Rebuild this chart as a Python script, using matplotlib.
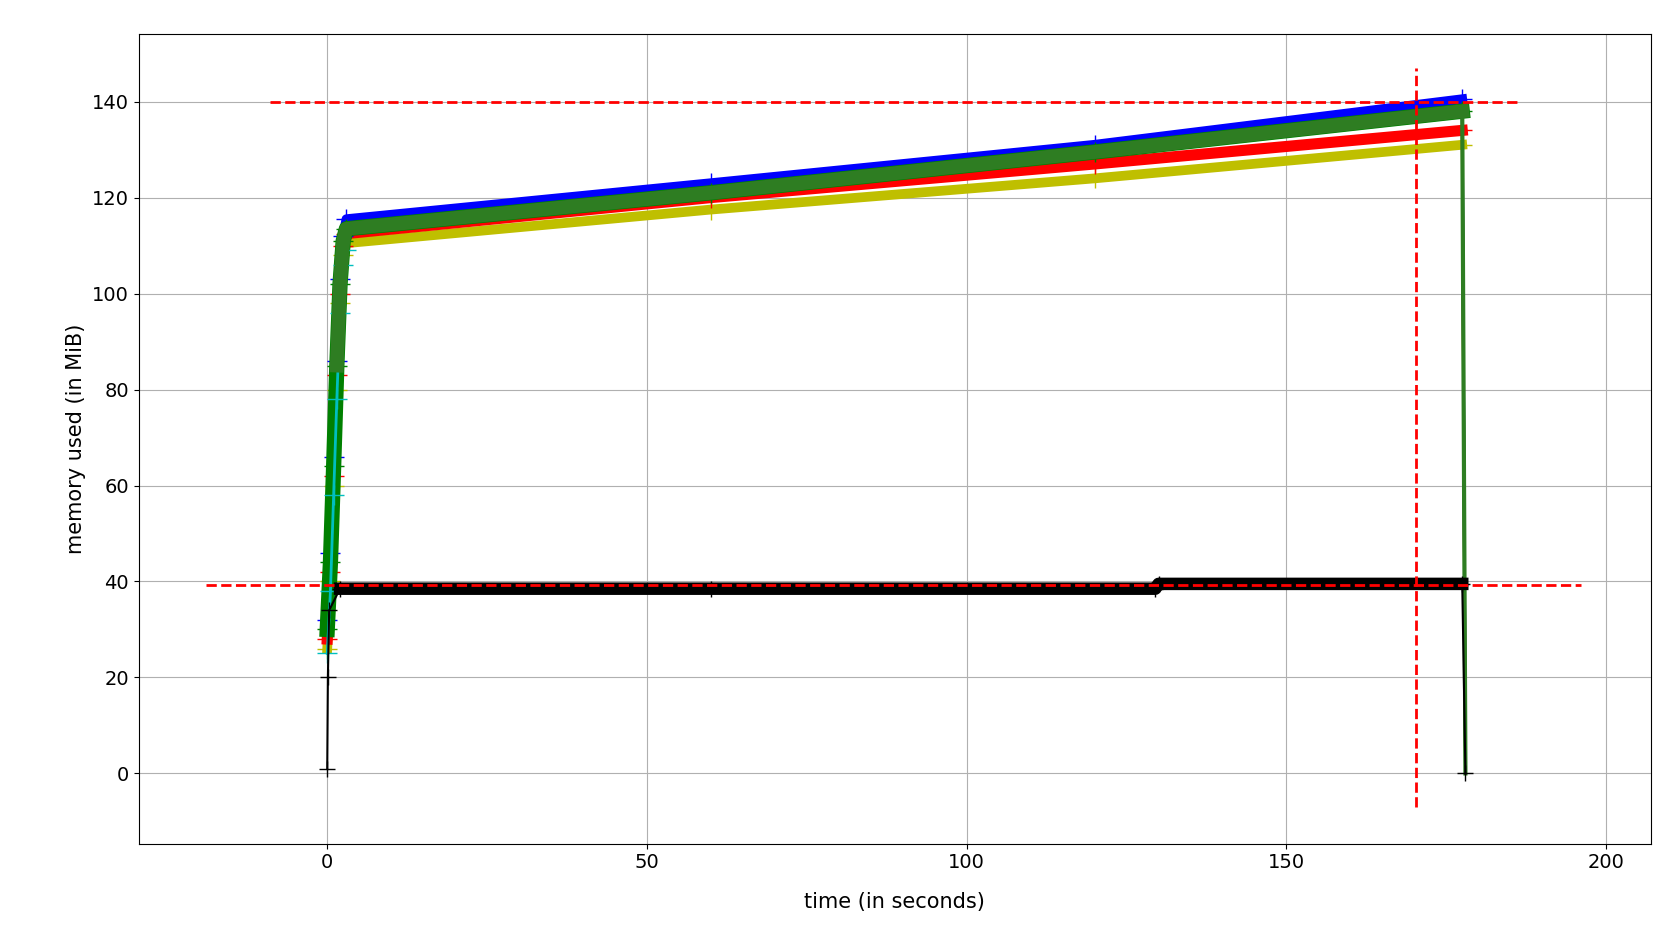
import matplotlib
matplotlib.use("Agg")
import matplotlib.pyplot as plt

# main process (black)
main_t = [0.0, 0.1, 0.3, 2.0, 60.0, 129.5, 130.0, 177.5, 178.0]
main_m = [1.0, 20.0, 34.0, 38.5, 38.5, 38.5, 39.5, 39.5, 0.0]

# child processes: colour -> memory at child_t
child_t = [0.0, 0.5, 1.0, 1.5, 2.0, 2.5, 3.0, 60.0, 120.0, 177.5, 178.0]
children = {
    "y": [26, 40, 60, 80, 98, 108, 110.5, 117.5, 124.0, 131.0, 0],
    "r": [28, 42, 62, 83, 100, 110, 112.5, 120.0, 127.0, 134.0, 0],
    "b": [32, 46, 66, 86, 103, 112, 115.5, 123.0, 131.0, 140.5, 0],
    "g": [30, 44, 64, 85, 102, 111, 113.5, 121.0, 129.5, 138.0, 0],
    "c": [25, 38, 58, 78, 96, 106, 109, 0, 0, 0, 0],
}

max_mem_main = 39.3
max_mem_child = 140.0
max_time = 170.3

fig = plt.figure(figsize=(16.6, 9.3), dpi=100)
ax = fig.add_axes([0.0835, 0.093, 0.911, 0.87])

widths = {"y": 7, "r": 8, "b": 7, "g": 11}
for c in ["y", "r", "b", "g"]:
    ax.plot(child_t[:10], children[c][:10], color=c, marker="+", markersize=14, linewidth=widths[c])
    ax.plot(child_t[9:], children[c][9:], color=c, linewidth=2)
ax.plot(child_t[:7], children["c"][:7], color="c", marker="+", markersize=14, linewidth=2)
ax.plot(child_t[3:10], children["g"][3:10], color="#2e7d22", linewidth=10)
ax.plot(child_t[9:], children["g"][9:], color="#2e7d22", linewidth=3)
ax.plot(main_t, main_m, color="k", marker="+", markersize=12, linewidth=1.5)
ax.plot(main_t[3:8], main_m[3:8], color="k", linewidth=9)

ax.plot([-9, 186], [max_mem_child] * 2, "r--", linewidth=2)
ax.plot([-19, 196], [max_mem_main] * 2, "r--", linewidth=2)
ax.plot([max_time] * 2, [-7, 147], "r--", linewidth=2)

ax.set_xlim(-29.5, 207)
ax.set_ylim(-14.6, 154)
ax.set_xticks([0, 50, 100, 150, 200])
ax.set_yticks([0, 20, 40, 60, 80, 100, 120, 140])
ax.tick_params(labelsize=14)
ax.grid(True)
ax.set_xlabel("time (in seconds)", fontsize=15, labelpad=14)
ax.set_ylabel("memory used (in MiB)", fontsize=15, labelpad=4)

fig.savefig("out.png")
